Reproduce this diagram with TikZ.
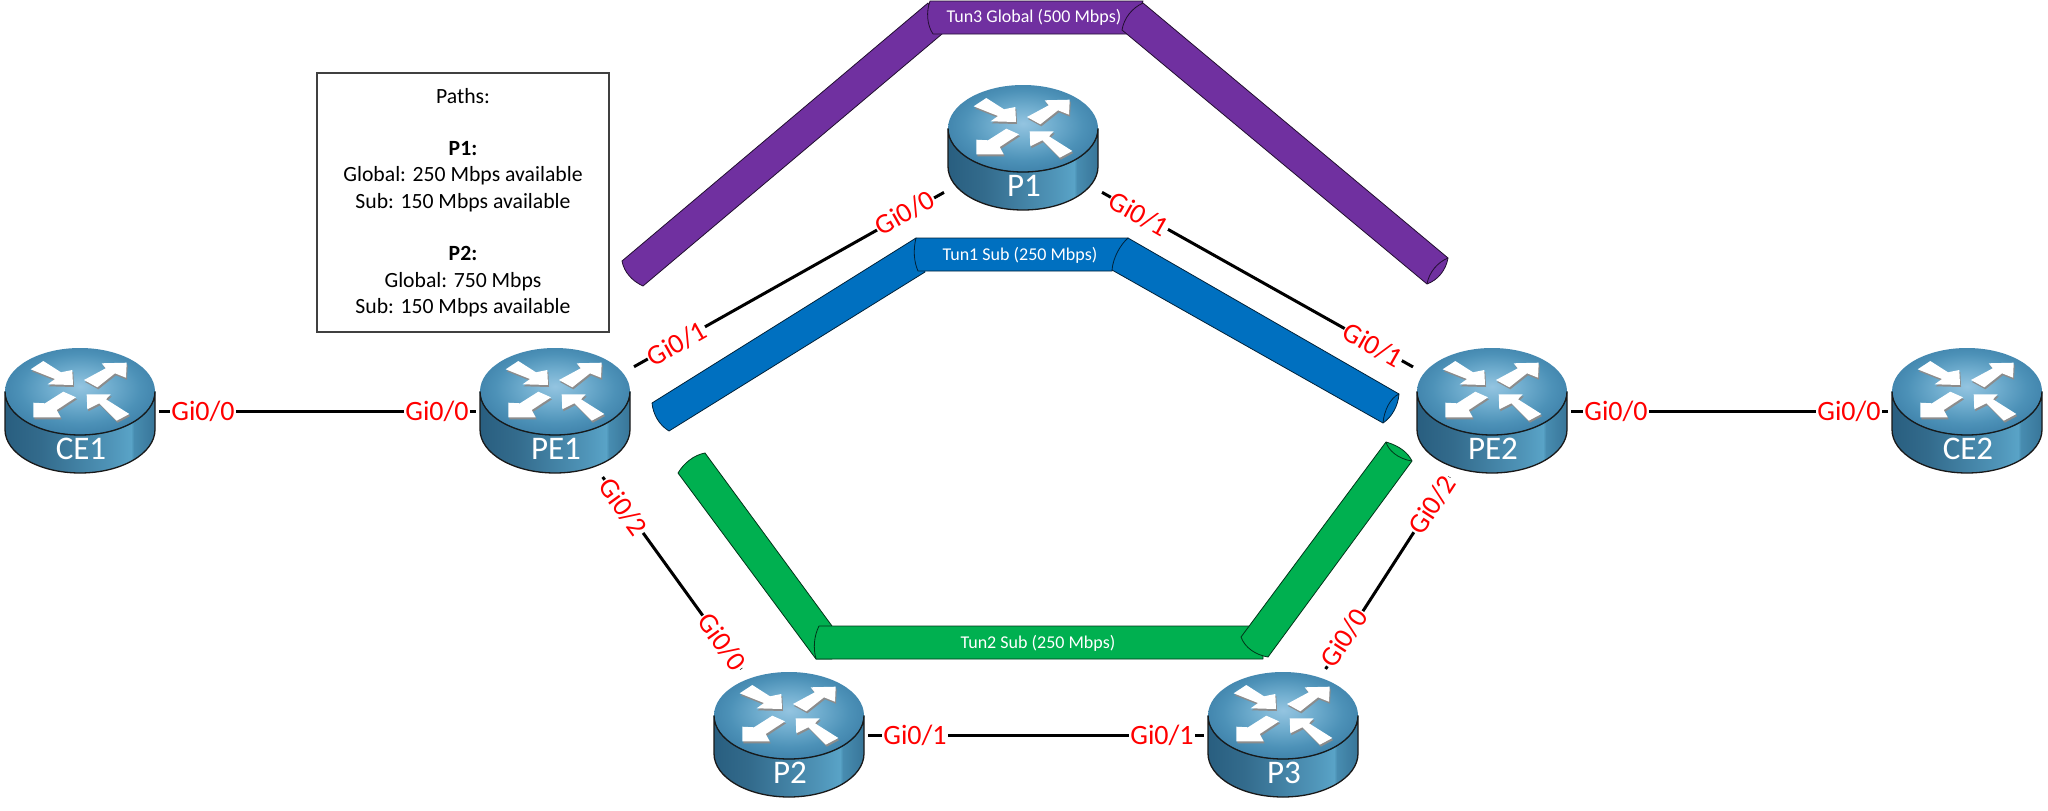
\documentclass[tikz,border=0pt]{standalone}
\usepackage{fontspec}
\setmainfont{Carlito}
\definecolor{tunpurple}{HTML}{7030A0}
\definecolor{tunblue}{HTML}{0070C0}
\definecolor{tungreen}{HTML}{00B050}
\definecolor{rtext}{HTML}{FF0000}
\pgfdeclarehorizontalshading{rbody}{100bp}{
  rgb(0bp)=(0.16,0.37,0.50);
  rgb(25bp)=(0.16,0.37,0.50);
  rgb(37bp)=(0.20,0.42,0.55);
  rgb(60bp)=(0.31,0.58,0.72);
  rgb(67bp)=(0.35,0.64,0.78);
  rgb(68bp)=(0.28,0.55,0.69);
  rgb(75bp)=(0.22,0.46,0.60);
  rgb(100bp)=(0.22,0.46,0.60)}
\pgfdeclareradialshading{rtop}{\pgfpoint{0bp}{3bp}}{
  rgb(0bp)=(0.58,0.77,0.88);
  rgb(10bp)=(0.44,0.68,0.81);
  rgb(20bp)=(0.30,0.57,0.72);
  rgb(28bp)=(0.24,0.50,0.66);
  rgb(50bp)=(0.24,0.50,0.66)}
\newcommand{\rshape}{%
  (-49.3,-41.7)--(-36.7,-50)--(-19,-38.7)--(-7.7,-41)--(-7,-26)--(-32.3,-26.7)--(-25,-32)--cycle
  (4,-31)--(25.7,-42.7)--(21.7,-47.7)--(46.7,-48.3)--(46,-33.3)--(35,-37.7)--(17.3,-23.7)--cycle
  (-16.7,-19.3)--(-4,-13.7)--(-23.3,-1)--(-19.3,6.3)--(-46.7,6.3)--(-46.7,-8.3)--(-35,-7.7)--cycle
  (6.7,-16.7)--(30.7,-16.7)--(26,-11.7)--(49.3,3)--(36.7,9.7)--(19.3,-7.7)--(7.3,-1.7)--cycle}
\tikzset{
  x=1pt,y=-1pt,
  rbox/.style={rectangle,minimum width=158pt,minimum height=132pt,inner sep=0pt,outer sep=0pt},
  rname/.style={text=white,anchor=base,inner sep=0pt,font=\fontsize{33}{35}\selectfont},
  link/.style={line width=3pt,black},
  lab/.style={text=rtext,fill=white,inner sep=1pt,font=\fontsize{28}{30}\selectfont},
  tubefill/.style={fill=#1,draw=black!70!#1,line width=.8pt,line join=round},
  tubeseam/.style={draw=black!70!#1,line width=.8pt},
  tunlab/.style={text=white,inner sep=0pt,font=\fontsize{18}{20}\selectfont},
  router/.pic={
    \node[rbox] (-box) at (0,0) {};
    \shade[shading=rbody] (-75,-19.5) -- (-75,18.5) arc[x radius=75,y radius=-43.5,start angle=180,end angle=360] -- (75,-19.5) -- cycle;
    \shade[shading=rtop] (0,-19.5) ellipse[x radius=75,y radius=43.5];
    \draw[draw=black!45!blue!30!teal,line width=.8pt] (-75,-19.5) arc[x radius=75,y radius=-43.5,start angle=180,end angle=360];
    \fill[black!45,shift={(1,2)}] \rshape;
    \fill[white] \rshape;
    \draw[line width=1.3pt,black!90] (-75,18.5) arc[x radius=75,y radius=-43.5,start angle=180,end angle=360] -- (75,-19.5) arc[x radius=75,y radius=43.5,start angle=0,end angle=180] -- cycle;
    \node[rname] (-name) at (1,48) {#1};
  }
}
\begin{document}
\begin{tikzpicture}
\useasboundingbox (0,0) rectangle (2048,811);
\fill[white] (0,0) rectangle (2048,811);
\path (80,411) pic (CE1) {router=CE1}
      (555,411) pic (PE1) {router=PE1}
      (1023,148) pic (P1) {router=P1}
      (1492,411) pic (PE2) {router=PE2}
      (1967,411) pic (CE2) {router=CE2}
      (789,735) pic (P2) {router=P2}
      (1283,735) pic (P3) {router=P3};
% connectors
\draw[link] (CE1-box) -- (PE1-box);
\draw[link] (PE1-box) -- (P1-box);
\draw[link] (P1-box) -- (PE2-box);
\draw[link] (PE2-box) -- (CE2-box);
\draw[link] (PE1-box) -- (P2-box);
\draw[link] (P2-box) -- (P3-box);
\draw[link] (P3-box) -- (PE2-box);
% interface labels
\node[lab] (l1) at (203,411) {Gi0/0};
\node[lab] (l2) at (437,411) {Gi0/0};
\node[lab,rotate=29.5] (l3) at (677,344) {Gi0/1};
\node[lab,rotate=29.5] (l4) at (905,213) {Gi0/0};
\node[lab,rotate=-29.5] (l5) at (1139,214) {Gi0/1};
\node[lab,rotate=-29.5] (l6) at (1373,345) {Gi0/1};
\node[lab] (l7) at (1616,411) {Gi0/0};
\node[lab] (l8) at (1849,411) {Gi0/0};
\node[lab,rotate=-54] (l9) at (623,507) {Gi0/2};
\node[lab,rotate=-54] (l10) at (722,642) {Gi0/0};
\node[lab] (l11) at (915,735) {Gi0/1};
\node[lab] (l12) at (1162,735) {Gi0/1};
\node[lab,rotate=57] (l13) at (1344,638) {Gi0/0};
\node[lab,rotate=57] (l14) at (1432,505) {Gi0/2};
% paths box
\node[draw=black!75,line width=1.3pt,fill=white,minimum width=292pt,minimum height=259pt,inner sep=0pt,align=center,font=\fontsize{21.7}{26.3}\selectfont] (paths) at (463,202.5)
  {Paths:\\[26.3pt]\textbf{P1:}\\Global: 250 Mbps available\\Sub: 150 Mbps available\\[26.3pt]\textbf{P2:}\\Global: 750 Mbps\\Sub: 150 Mbps available};
% purple tunnel
\path[tubefill=tunpurple] (622,261) -- (928,3) -- (942,34) -- (643,286) .. controls (632,281) and (624,272) .. (622,261) -- cycle;
\path[tubefill=tunpurple] (930,1) .. controls (926,12) and (927,25) .. (933,34) -- (1130,34) -- (1143,1) -- cycle;
\path[tubefill=tunpurple] (1143,3) -- (1448,258) .. controls (1446,270) and (1438,280) .. (1427,284) -- (1122,30) .. controls (1124,18) and (1132,8) .. (1143,3) -- cycle;
\path[tubeseam=tunpurple] (1448,258) .. controls (1438,262) and (1429,272) .. (1427,284);
\node[tunlab] (tun3) at (1034,17) {Tun3 Global (500 Mbps)};
% blue tunnel
\path[tubefill=tunblue] (652,403) -- (916,238) -- (925,272) -- (669,431) .. controls (659,425) and (653,414) .. (652,403) -- cycle;
\path[tubefill=tunblue] (916,238) .. controls (913,250) and (914,262) .. (918,271) -- (1112,271) -- (1128,238) -- cycle;
\path[tubefill=tunblue] (1128,238) -- (1399,394) .. controls (1398,406) and (1392,417) .. (1383,423) -- (1112,270) .. controls (1113,258) and (1120,245) .. (1128,238) -- cycle;
\path[tubeseam=tunblue] (1399,394) .. controls (1390,398) and (1384,411) .. (1383,423);
\node[tunlab] (tun1) at (1020,255) {Tun1 Sub (250 Mbps)};
% green tunnel
\path[tubefill=tungreen] (678,473) .. controls (684,463) and (694,455) .. (705,453) -- (832,626) -- (832,659) -- (816,659) -- cycle;
\path[tubefill=tungreen] (819,626) .. controls (814,636) and (813,648) .. (816,659) -- (1263,659) -- (1263,626) -- cycle;
\path[tubefill=tungreen] (1386,442) .. controls (1400,446) and (1408,453) .. (1412,461) -- (1268,657) .. controls (1256,655) and (1245,648) .. (1241,637) -- cycle;
\path[tubeseam=tungreen] (1386,442) .. controls (1388,450) and (1398,459) .. (1412,461);
\node[tunlab] (tun2) at (1038,643) {Tun2 Sub (250 Mbps)};
\end{tikzpicture}
\end{document}
